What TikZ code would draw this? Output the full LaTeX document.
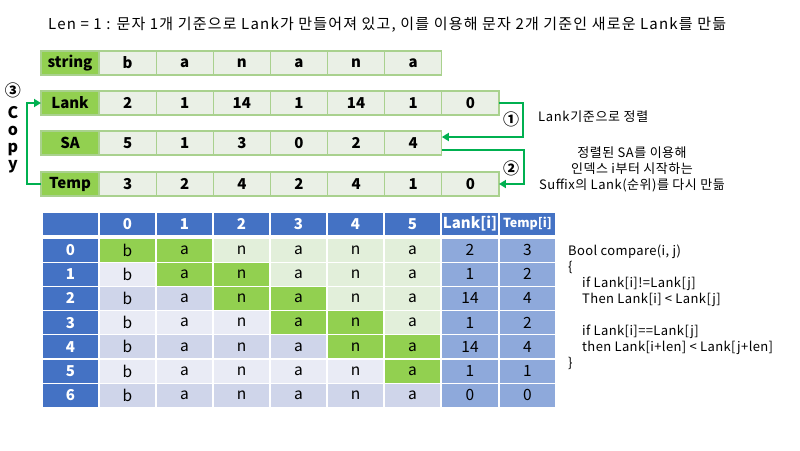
\documentclass[tikz,border=0pt]{standalone}
\usepackage{fontspec}
\setmainfont{Noto Sans CJK KR}
\usetikzlibrary{arrows.meta}
\definecolor{hl}{HTML}{92D050}
\definecolor{lg}{HTML}{E2EFDA}
\definecolor{bd}{HTML}{CFD5EA}
\definecolor{bl}{HTML}{E9EBF5}
\definecolor{tblue}{HTML}{4472C4}
\definecolor{mblue}{HTML}{8EA9DB}
\definecolor{acell}{HTML}{EAF0E6}
\definecolor{aborder}{HTML}{A9D18E}
\definecolor{garr}{HTML}{00B050}
\newcommand{\fs}[1]{\fontsize{#1}{#1}\selectfont}
\newcommand{\fsb}[2]{\fontsize{#1}{#2}\selectfont}
\begin{document}
\begin{tikzpicture}[x=1pt,y=-1pt,
  arrlab/.style={draw=aborder, line width=1.2pt, fill=hl, minimum width=58pt, minimum height=24pt, inner sep=0pt, outer sep=0pt, font=\bfseries\fs{15}},
  arrcell/.style={draw=aborder, line width=1.2pt, fill=acell, minimum width=57.14pt, minimum height=24pt, inner sep=0pt, outer sep=0pt, font=\bfseries\fs{15}},
  thead/.style={draw=white, line width=1.2pt, fill=tblue, text=white, minimum width=57pt, minimum height=24pt, inner sep=0pt, outer sep=0pt, font=\bfseries\fs{15}},
  tcell/.style={draw=white, line width=1.2pt, minimum width=57pt, minimum height=24.2pt, inner sep=0pt, outer sep=0pt, font=\fs{15.5}},
  garrow/.style={draw=garr, line width=2.5pt, -{Triangle[length=7pt,width=8pt]}},
  note/.style={font=\fs{13}\addfontfeature{LetterSpace=5}, inner sep=0pt}
]
\useasboundingbox (0,0) rectangle (800,450);

% title
\node[anchor=west, font=\fs{15}\addfontfeature{LetterSpace=8}, inner sep=0pt] (title) at (48,25) {Len = 1 : 문자 1개 기준으로 Lank가 만들어져 있고, 이를 이용해 문자 2개 기준인 새로운 Lank를 만듦};

% arrays
\node[arrlab] (s0) at (70,63) {string};
\foreach \t [count=\k] in {b,a,n,a,n,a}
  \node[arrcell] (s\k) at ({99+57.14*(\k-0.5)},63) {\t};
\node[arrlab] (L0) at (70,103) {Lank};
\foreach \t [count=\k] in {2,1,14,1,14,1,0}
  \node[arrcell] (L\k) at ({99+57.14*(\k-0.5)},103) {\t};
\node[arrlab] (A0) at (70,143) {SA};
\foreach \t [count=\k] in {5,1,3,0,2,4}
  \node[arrcell] (A\k) at ({99+57.14*(\k-0.5)},143) {\t};
\node[arrlab] (T0) at (70,184) {Temp};
\foreach \t [count=\k] in {3,2,4,2,4,1,0}
  \node[arrcell] (T\k) at ({99+57.14*(\k-0.5)},184) {\t};

% arrows
\draw[garrow] (L7.east) -- ++(24,0) |- ([yshift=6pt]A6.east);
\draw[garrow] ([yshift=-7pt]A6.east) -- ++(82,0) |- (T7.east);
\draw[garrow] (T0.west) -- ++(-14,0) |- (L0.west);

\node[font=\bfseries\fs{16}, inner sep=0pt] (n1) at (511,119) {①};
\node[font=\bfseries\fs{16}, inner sep=0pt] (n2) at (511,168) {②};
\node[font=\bfseries\fs{16}, inner sep=0pt] (n3) at (13,90) {③};
\node[font=\bfseries\fs{16}, inner sep=0pt] (cc) at (13,113) {C};
\node[font=\bfseries\fs{16}, inner sep=0pt] (co) at (13,131) {o};
\node[font=\bfseries\fs{16}, inner sep=0pt] (cp) at (13,149) {p};
\node[font=\bfseries\fs{16}, inner sep=0pt] (cy) at (13,167) {y};

\node[note, anchor=west] (t1) at (538,117) {Lank기준으로 정렬};
\node[inner sep=0pt, align=center, anchor=center, font=\fsb{13}{16}\addfontfeature{LetterSpace=4}] (t2) at (632,169) {정렬된 SA를 이용해\\인덱스 i부터 시작하는\\Suffix의 Lank(순위)를 다시 만듦};

% table header
\node[thead] (h0) at (70.5,224) {};
\foreach \t [count=\k from 0] in {0,1,2,3,4,5}
  \node[thead] (h\k x) at ({127.5+57*\k},224) {\t};
\node[thead, minimum width=58pt] (hL) at (470,224) {Lank[i]};
\node[thead, font=\bfseries\fs{12.5}] (hT) at (527.5,224) {Temp[i]};

% table body
\foreach \r in {0,...,6} {
  \pgfmathsetmacro\yy{250+24.2*\r}
  \node[thead, minimum height=24.2pt] (r\r) at (70.5,\yy) {\r};
  \foreach \t [count=\kk from 0] in {b,a,n,a,n,a} {
    \pgfmathtruncatemacro\cls{(\kk==\r || \kk==\r+1) ? 1 : ((\kk>\r+1) ? 2 : ((mod(\r,2)==0) ? 3 : 4))}
    \ifcase\cls\or\def\fc{hl}\or\def\fc{lg}\or\def\fc{bd}\or\def\fc{bl}\fi
    \node[tcell, fill=\fc] (c\r-\kk) at ({127.5+57*\kk},\yy) {\t};
  }
}
\foreach \a/\b [count=\r from 0] in {2/3,1/2,14/4,1/2,14/4,1/1,0/0} {
  \pgfmathsetmacro\yy{250+24.2*\r}
  \node[tcell, fill=mblue, minimum width=58pt] (v\r) at (470,\yy) {\a};
  \node[tcell, fill=mblue] (w\r) at (527.5,\yy) {\b};
}

% code
\node[anchor=north west, align=left, inner sep=0pt, font=\fsb{13}{16}\addfontfeature{LetterSpace=3}] (code) at (568,245) {Bool compare(i, j)\\
\{\\
\hspace*{14pt}if Lank[i]!=Lank[j]\\
\hspace*{14pt}Then Lank[i] < Lank[j]\\
\mbox{}\\
\hspace*{14pt}if Lank[i]==Lank[j]\\
\hspace*{14pt}then Lank[i+len] < Lank[j+len]\\
\}};
\end{tikzpicture}
\end{document}
